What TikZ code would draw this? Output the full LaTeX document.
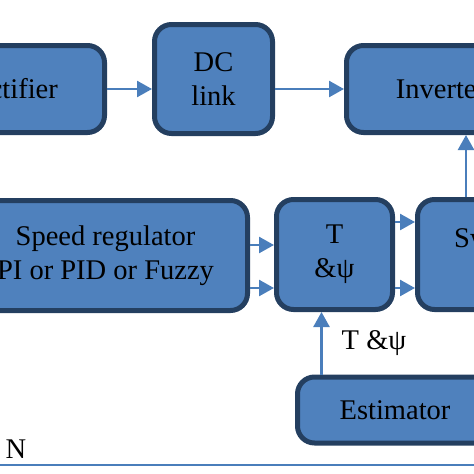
\documentclass[tikz,border=0pt]{standalone}
\usepackage{fontspec}
\setmainfont{Liberation Serif}
\usetikzlibrary{arrows.meta}
\definecolor{blockfill}{HTML}{4F81BD}
\definecolor{blockline}{HTML}{243F60}
\definecolor{flow}{HTML}{4A7EBB}

\begin{document}
\begin{tikzpicture}[x=1pt,y=-1pt,
    block/.style={draw=blockline,fill=blockfill,line width=5pt,rounded corners=17pt,
      align=center,inner sep=0pt,font=\fontsize{28.5}{34}\selectfont},
    flowline/.style={draw=flow,line width=2.5pt,-{Triangle[length=15pt,width=16pt]}},
    lbl/.style={font=\fontsize{28.5}{34}\selectfont}]
      \useasboundingbox (0,0) rectangle (474,474);

      \node[block,minimum width=193pt,minimum height=87pt] (rect) at (8,89) {Rectifier};
      \node[block,minimum width=118pt,minimum height=109pt] (dc) at (213.5,79) {DC\\link};
      \node[block,minimum width=189pt,minimum height=87pt] (inv) at (441,89) {Inverter};

      \node[block,minimum width=284pt,minimum height=110pt] (spd) at (105.5,255.5) {Speed regulator\\PI or PID or Fuzzy};
      \node[block,minimum width=116pt,minimum height=110pt] (te) at (334.5,254.5) {T\\\&ψ};
      \node[block,minimum width=189pt,minimum height=110pt] (sw) at (512,254.5) {Switching\\table};
      \node[block,minimum width=195pt,minimum height=66pt] (est) at (395,410) {Estimator};

      \node[lbl] (tpsi) at (374,343) {T \&ψ};
      \node[lbl] (nlabel) at (16,449) {N};

      \path (spd.east) ++(0,-10.5) coordinate (s1);
      \path (spd.east) ++(0,32.5) coordinate (s2);
      \path (te.east) ++(0,-32.5) coordinate (t1);
      \path (te.east) ++(0,33.5) coordinate (t2);
      \path (sw.north) ++(-46,0) coordinate (up);
      \path (est.north) ++(-73.5,0) coordinate (e1);

      \draw[flowline] (rect.east) -- (rect.east -| dc.west);
      \draw[flowline] (dc.east |- inv.west) -- (inv.west);
      \draw[flowline] (up) -- (up |- inv.south);
      \draw[flowline] (s1) -- (s1 -| te.west);
      \draw[flowline] (s2) -- (s2 -| te.west);
      \draw[flowline] (t1) -- (t1 -| sw.west);
      \draw[flowline] (t2) -- (t2 -| sw.west);
      \draw[flowline] (e1) -- (e1 |- te.south);

      \draw[flow,line width=2pt] (0,465) -- (474,465);
    \end{tikzpicture}
\end{document}
